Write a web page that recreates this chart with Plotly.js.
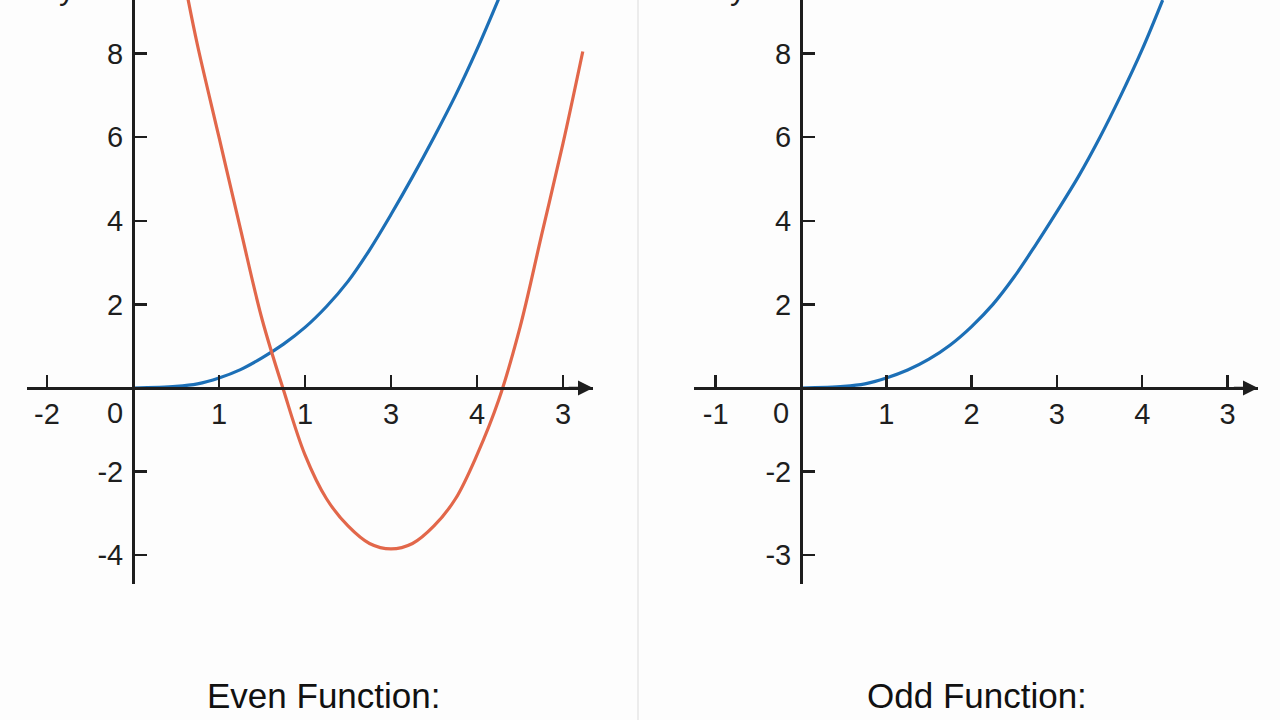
<!DOCTYPE html>
<html>
<head>
<meta charset="utf-8">
<script src="https://cdn.plot.ly/plotly-3.0.1.min.js"></script>
<style>html,body{margin:0;padding:0;background:#fdfdfd;}#chart{width:1280px;height:720px;}</style>
</head>
<body>
<div id="chart"></div>
<script>
// ---- data ----
const leftXTickVals = [-1, 1, 2, 3, 4, 5];
const leftXTickText = ["-2", "1", "1", "3", "4", "3"];
const leftYTickVals = [8, 6, 4, 2, -2, -4];
const leftYTickText = ["8", "6", "4", "2", "-2", "-4"];
const rightXTickVals = [-1, 1, 2, 3, 4, 5];
const rightXTickText = ["-1", "1", "2", "3", "4", "3"];
const rightYTickVals = [8, 6, 4, 2, -2, -4];
const rightYTickText = ["8", "6", "4", "2", "-2", "-3"];

const leftBlueX = [0, 0.5, 0.75, 1.0, 1.25, 1.5, 1.75, 2.0, 2.25, 2.5, 2.75, 3.0, 3.25, 3.5, 3.75, 4.0, 4.25];
const leftBlueY = [0, 0.04, 0.1, 0.24, 0.44, 0.72, 1.05, 1.45, 1.95, 2.55, 3.3, 4.15, 5.05, 6.0, 7.0, 8.1, 9.3];
const leftRedX = [0.64, 0.75, 1.0, 1.25, 1.5, 1.75, 2.0, 2.25, 2.5, 2.75, 3.0, 3.25, 3.5, 3.75, 4.0, 4.25, 4.5, 4.75, 5.0, 5.23];
const leftRedY = [9.3, 8.2, 6.0, 3.8, 1.65, -0.05, -1.6, -2.65, -3.3, -3.72, -3.85, -3.72, -3.3, -2.65, -1.6, -0.3, 1.45, 3.65, 5.85, 8.05];
const rightBlueX = [0, 0.5, 0.75, 1.0, 1.25, 1.5, 1.75, 2.0, 2.25, 2.5, 2.75, 3.0, 3.25, 3.5, 3.75, 4.0, 4.24];
const rightBlueY = [0, 0.04, 0.1, 0.24, 0.43, 0.69, 1.03, 1.47, 2.0, 2.66, 3.42, 4.22, 5.05, 5.98, 7.0, 8.1, 9.28];

const panelTitles = ["Even Function:", "Odd Function:"];
const axisLabel = "y";
const originLabel = "0";

// ---- styling ----
const INK = "#1e1e1e";
const BLUE = "#1c6fb6";
const RED = "#e2674a";
const FONT = "Liberation Sans, Arial, Helvetica, sans-serif";
const TICK_SIZE = 29;
const W = 1280, H = 720;

function xAxis(domPx, range, vals, text) {
  return {
    domain: [domPx[0] / W, domPx[1] / W], range: range,
    anchor: "free", position: (H - 388) / H,
    showline: true, linecolor: INK, linewidth: 2.5,
    ticks: "inside", ticklen: 12, tickwidth: 2.5, tickcolor: INK,
    tickmode: "array", tickvals: vals, ticktext: text,
    tickfont: {family: FONT, size: TICK_SIZE, color: INK},
    showgrid: false, zeroline: false, fixedrange: true
  };
}
function yAxis(posPx, vals, text) {
  return {
    domain: [(H - 584) / H, 1], range: [-4.689, 9.282],
    anchor: "free", position: posPx / W,
    showline: true, linecolor: INK, linewidth: 2.5,
    ticks: "inside", ticklen: 12, tickwidth: 2.5, tickcolor: INK,
    tickmode: "array", tickvals: vals, ticktext: text,
    tickfont: {family: FONT, size: TICK_SIZE, color: INK},
    ticklabelstandoff: 3,
    showgrid: false, zeroline: false, fixedrange: true
  };
}

const lineStyle = (c) => ({color: c, width: 3.2, shape: "spline", smoothing: 1});
const traces = [
  {x: leftBlueX, y: leftBlueY, xaxis: "x", yaxis: "y", mode: "lines", line: lineStyle(BLUE), hoverinfo: "skip"},
  {x: leftRedX, y: leftRedY, xaxis: "x", yaxis: "y", mode: "lines", line: lineStyle(RED), hoverinfo: "skip"},
  {x: rightBlueX, y: rightBlueY, xaxis: "x2", yaxis: "y2", mode: "lines", line: lineStyle(BLUE), hoverinfo: "skip"}
];

const xRangeL = [(27 - 133) / 86, (593 - 133) / 86];
const xRangeR = [(694 - 801) / 85.3, (1258 - 801) / 85.3];

const annotations = [
  // arrows on x axes
  {xref: "x", yref: "y", x: xRangeL[1], y: 0, axref: "x", ayref: "y", ax: xRangeL[1] - 0.3, ay: 0,
   showarrow: true, arrowhead: 2, arrowsize: 1.2, arrowwidth: 2.5, arrowcolor: INK, text: "", standoff: 0},
  {xref: "x2", yref: "y2", x: xRangeR[1], y: 0, axref: "x2", ayref: "y2", ax: xRangeR[1] - 0.3, ay: 0,
   showarrow: true, arrowhead: 2, arrowsize: 1.2, arrowwidth: 2.5, arrowcolor: INK, text: "", standoff: 0},
  // origin labels
  {xref: "x", yref: "y", x: -0.21, y: 0, yshift: -25, text: originLabel, showarrow: false,
   font: {family: FONT, size: TICK_SIZE, color: INK}, xanchor: "center", yanchor: "middle"},
  {xref: "x2", yref: "y2", x: -0.23, y: 0, yshift: -25, text: originLabel, showarrow: false,
   font: {family: FONT, size: TICK_SIZE, color: INK}, xanchor: "center", yanchor: "middle"},
  // y labels (cut at the top edge, as in the reference)
  {xref: "paper", yref: "paper", x: 67 / W, y: 1, yshift: 12, xanchor: "center", yanchor: "middle", text: axisLabel, showarrow: false,
   font: {family: FONT, size: 32, color: INK}},
  {xref: "paper", yref: "paper", x: 738 / W, y: 1, yshift: 12, xanchor: "center", yanchor: "middle", text: axisLabel, showarrow: false,
   font: {family: FONT, size: 32, color: INK}},
  // panel titles
  {xref: "paper", yref: "paper", x: 323.5 / W, y: 25 / H, xanchor: "center", yanchor: "middle", text: panelTitles[0], showarrow: false,
   font: {family: FONT, size: 35, color: "#111"}},
  {xref: "paper", yref: "paper", x: 976.5 / W, y: 25 / H, xanchor: "center", yanchor: "middle", text: panelTitles[1], showarrow: false,
   font: {family: FONT, size: 35, color: "#111"}}
];

const layout = {
  width: W, height: H,
  margin: {l: 0, r: 0, t: 0, b: 0, pad: 0},
  paper_bgcolor: "#fdfdfd", plot_bgcolor: "rgba(0,0,0,0)",
  showlegend: false,
  xaxis: xAxis([27, 593], xRangeL, leftXTickVals, leftXTickText),
  yaxis: yAxis(133, leftYTickVals, leftYTickText),
  xaxis2: xAxis([694, 1258], xRangeR, rightXTickVals, rightXTickText),
  yaxis2: yAxis(801, rightYTickVals, rightYTickText),
  shapes: [
    {type: "line", xref: "paper", yref: "paper", x0: 638 / W, x1: 638 / W, y0: 0, y1: 1,
     line: {color: "#e6e6e6", width: 1.5}, layer: "below"}
  ],
  annotations: annotations
};

Plotly.newPlot("chart", traces, layout, {staticPlot: true, displayModeBar: false});
</script>
</body>
</html>
